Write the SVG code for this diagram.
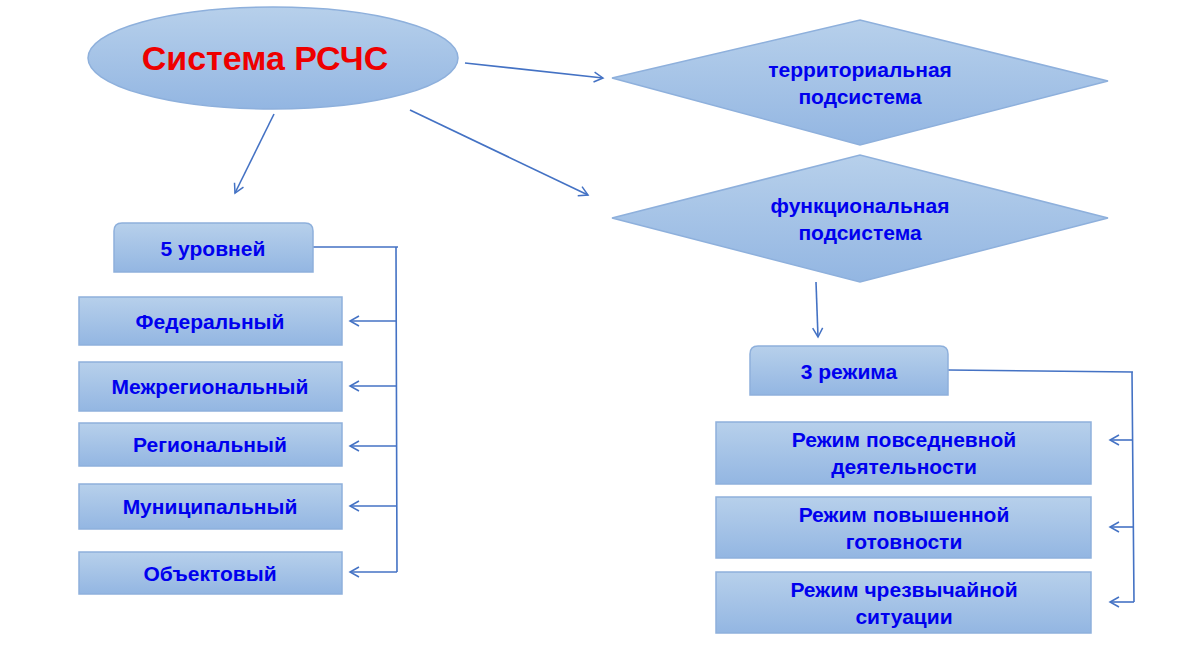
<svg xmlns="http://www.w3.org/2000/svg" width="1200" height="672" viewBox="0 0 1200 672">
<defs>
<linearGradient id="g" x1="0" y1="0" x2="0" y2="1"><stop offset="0" stop-color="#b7d0eb"/><stop offset="1" stop-color="#93b6e2"/></linearGradient>
<marker id="a" markerWidth="12" markerHeight="12" refX="10" refY="6" orient="auto" markerUnits="userSpaceOnUse"><path d="M1,1 L10,6 L1,11" fill="none" stroke="#4472c4" stroke-width="1.5"/></marker>
<style>
.n{fill:url(#g);stroke:#8eb0dc;stroke-width:1.5}
.t{font-family:"Liberation Sans",Arial,sans-serif;font-weight:bold;font-size:21px;fill:#0000ee;text-anchor:middle}
.c{fill:none;stroke:#4472c4;stroke-width:1.6}
</style>
</defs>
<rect width="1200" height="672" fill="#fff"/>
<g id="connectors">
<path class="c" d="M465,63 L603,78" marker-end="url(#a)"/>
<path class="c" d="M410,110 L588,195" marker-end="url(#a)"/>
<path class="c" d="M274,114 L235,193" marker-end="url(#a)"/>
<path class="c" d="M816,282 L818,337" marker-end="url(#a)"/>
<path class="c" d="M313,247 L398,247 M396,247 L397,572"/>
<path class="c" d="M396,321 L350,321" marker-end="url(#a)"/>
<path class="c" d="M396,386 L350,386" marker-end="url(#a)"/>
<path class="c" d="M396,446 L350,446" marker-end="url(#a)"/>
<path class="c" d="M396,506 L350,506" marker-end="url(#a)"/>
<path class="c" d="M397,572 L350,572" marker-end="url(#a)"/>
<path class="c" d="M948,370 L1133,372 M1132,372 L1134,602"/>
<path class="c" d="M1132,440 L1110,440" marker-end="url(#a)"/>
<path class="c" d="M1133,527 L1110,527" marker-end="url(#a)"/>
<path class="c" d="M1134,602 L1110,602" marker-end="url(#a)"/>
</g>
<g id="root"><ellipse class="n" cx="273" cy="58" rx="185" ry="51"/><text x="265" y="70" style="font-family:'Liberation Sans',Arial,sans-serif;font-weight:bold;font-size:34px;fill:#ee0000;text-anchor:middle">Система РСЧС</text></g>
<g id="terr"><polygon class="n" points="612,78 860,20 1108,81 860,145"/><text class="t" x="860" y="77">территориальная</text><text class="t" x="860" y="104">подсистема</text></g>
<g id="func"><polygon class="n" points="612,218 860,155 1108,218 860,282"/><text class="t" x="860" y="213">функциональная</text><text class="t" x="860" y="240">подсистема</text></g>
<g id="levels"><path class="n" d="M114,272 V231 Q114,223 122,223 H305 Q313,223 313,231 V272 Z"/><text class="t" x="213" y="256">5 уровней</text></g>
<g id="fed"><rect class="n" x="79" y="297" width="263" height="48"/><text class="t" x="210" y="329">Федеральный</text></g>
<g id="mezh"><rect class="n" x="79" y="362" width="263" height="49"/><text class="t" x="210" y="394">Межрегиональный</text></g>
<g id="reg"><rect class="n" x="79" y="423" width="263" height="43"/><text class="t" x="210" y="452">Региональный</text></g>
<g id="mun"><rect class="n" x="79" y="484" width="263" height="45"/><text class="t" x="210" y="514">Муниципальный</text></g>
<g id="obj"><rect class="n" x="79" y="552" width="263" height="42"/><text class="t" x="210" y="581">Объектовый</text></g>
<g id="modes"><path class="n" d="M750,395 V354 Q750,346 758,346 H940 Q948,346 948,354 V395 Z"/><text class="t" x="849" y="379">3 режима</text></g>
<g id="m1"><rect class="n" x="716" y="422" width="375" height="62"/><text class="t" x="904" y="447">Режим повседневной</text><text class="t" x="904" y="474">деятельности</text></g>
<g id="m2"><rect class="n" x="716" y="497" width="375" height="61"/><text class="t" x="904" y="522">Режим повышенной</text><text class="t" x="904" y="549">готовности</text></g>
<g id="m3"><rect class="n" x="716" y="572" width="375" height="61"/><text class="t" x="904" y="597">Режим чрезвычайной</text><text class="t" x="904" y="624">ситуации</text></g>
</svg>
